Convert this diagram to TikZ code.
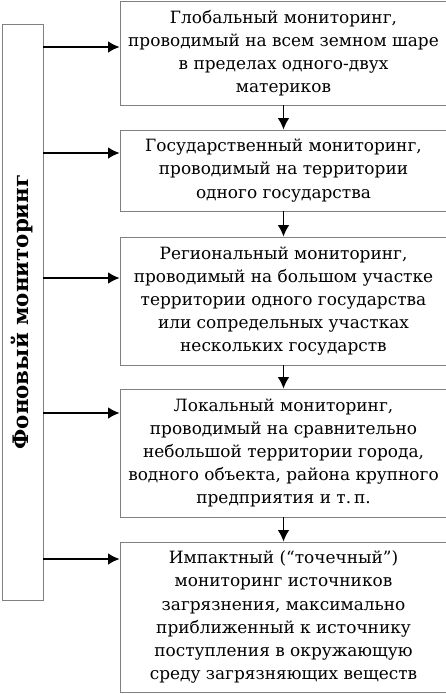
\documentclass[tikz,border=0pt]{standalone}
\usepackage{fontspec}
\setmainfont{DejaVu Serif}
\usetikzlibrary{arrows.meta}

\tikzset{
	levelbox/.style={draw=black!50, line width=0.7pt, fill=white, align=center,
		minimum width=327*0.75pt, inner sep=0pt, font=\fontsize{12.7}{17.3}\selectfont},
	feed/.style={line width=0.8pt, -{Latex[length=8.5pt,width=8.5pt]}},
}

\begin{document}
\begin{tikzpicture}[x=0.75pt, y=-0.75pt]
		%%%%% START %%%%%
		
		\clip (0, 0) rectangle (446, 694);
		\useasboundingbox (0, 0) rectangle (446, 694);
		
		\node[draw=black!50, line width=0.7pt, minimum width=41*0.75pt, minimum height=576*0.75pt, inner sep=0pt] (fon) at (22.5, 312) {};
		\node[rotate=90, font=\bfseries\fontsize{16}{19}\selectfont] (fontitle) at (22, 312) {Фоновый мониторинг};
		
		\node[levelbox, minimum height=104*0.75pt] (global) at (283.5, 53) {Глобальный мониторинг,\\проводимый на всем земном шаре\\в пределах одного-двух\\материков};
		\node[levelbox, minimum height=81*0.75pt] (state) at (283.5, 170.5) {Государственный мониторинг,\\проводимый на территории\\одного государства};
		\node[levelbox, minimum height=128*0.75pt] (region) at (283.5, 301) {Региональный мониторинг,\\проводимый на большом участке\\территории одного государства\\или сопредельных участках\\нескольких государств};
		\node[levelbox, minimum height=128*0.75pt] (local) at (283.5, 453) {Локальный мониторинг,\\проводимый на сравнительно\\небольшой территории города,\\водного объекта, района крупного\\предприятия и т.\,п.};
		\node[levelbox, minimum height=150*0.75pt] (impact) at (283.5, 617) {Импактный (“точечный”)\\мониторинг источников\\загрязнения, максимально\\приближенный к источнику\\поступления в окружающую\\среду загрязняющих веществ};
		
		\draw[feed] (global) -- (state);
		\draw[feed] (state) -- (region);
		\draw[feed] (region) -- (local);
		\draw[feed] (local) -- (impact);
		
		\draw[feed] (fon.east |- 0, 47) -- (global.west |- 0, 47);
		\draw[feed] (fon.east |- 0, 153) -- (state.west |- 0, 153);
		\draw[feed] (fon.east |- 0, 278) -- (region.west |- 0, 278);
		\draw[feed] (fon.east |- 0, 413) -- (local.west |- 0, 413);
		\draw[feed] (fon.east |- 0, 559) -- (impact.west |- 0, 559);
		
		%%%%% END %%%%%
	\end{tikzpicture}
\end{document}
